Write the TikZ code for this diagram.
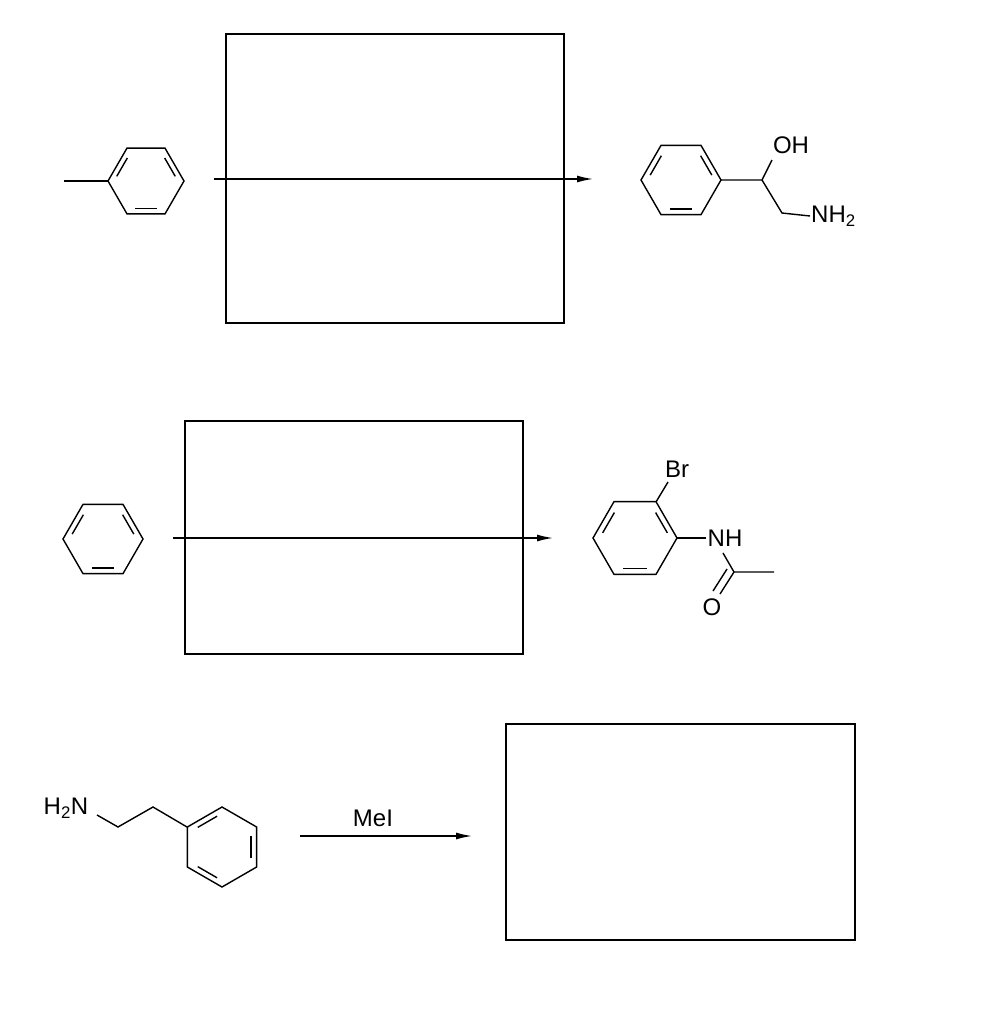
\documentclass[tikz,border=0pt]{standalone}
\usepackage{fontspec}
\setmainfont{Liberation Sans}
\usetikzlibrary{arrows.meta}
\tikzset{bond/.style={line width=1.4pt},lab/.style={font=\fontsize{24}{24}\selectfont,inner sep=1pt},
 rarrow/.style={line width=1.4pt,-{Latex[length=16pt,width=7pt]}},box/.style={line width=1.4pt}}
\newcommand{\benz}[4]{% cx cy r startangle
 \draw[bond] ({#1+#3*cos(#4)},{#2-#3*sin(#4)}) \foreach \k in {1,...,5}{ -- ({#1+#3*cos(#4+60*\k)},{#2-#3*sin(#4+60*\k)})} -- cycle;
 \foreach \k in {0,2,4}{\draw[bond] ({#1+0.78*#3*cos(#4+60*\k+9)},{#2-0.78*#3*sin(#4+60*\k+9)}) -- ({#1+0.78*#3*cos(#4+60*\k+51)},{#2-0.78*#3*sin(#4+60*\k+51)});}}
\begin{document}
\begin{tikzpicture}[x=1pt,y=-1pt]
\useasboundingbox (0,0) rectangle (1000,1010);
% row 1
\benz{146}{181}{38}{0}
\draw[bond] (64,181) -- (108,181);
\draw[box] (226,34) rectangle (564,323);
\coordinate (a1s) at (214,179); \coordinate (a1e) at (593,179);
\draw[rarrow] (a1s) -- (a1e);
\benz{681}{180}{40}{0}
\node[lab] (oh) at (791,145) {OH};
\node[lab,anchor=west] (nh2) at (810,216) {NH\textsubscript{2}};
\draw[bond] (721,180) -- (762,180) -- (772,160);
\draw[bond] (762,180) -- (782,213) -- (nh2.west);
% row 2
\benz{103}{539}{40}{0}
\draw[box] (185,421) rectangle (523,654);
\coordinate (a2s) at (173,538); \coordinate (a2e) at (553,538);
\draw[rarrow] (a2s) -- (a2e);
\benz{635}{538}{42}{0}
\node[lab] (br) at (677,469) {Br};
\node[lab] (nh) at (725,538) {NH};
\node[lab] (o) at (712,607) {O};
\draw[bond] (656,502) -- (668,482);
\draw[bond] (677,538) -- (nh.west);
\draw[bond] (723,553) -- (734,572) -- (774,572);
\draw[bond] (734,572) -- (720,594);
\draw[bond] (727,569) -- (713,591);
% row 3
\node[lab] (h2n) at (66,808) {H\textsubscript{2}N};
\benz{222}{847}{40}{90}
\draw[bond] (97,815) -- (118,827) -- (153,807) -- (187,827);
\coordinate (a3s) at (300,836); \coordinate (a3e) at (472,836);
\draw[rarrow] (a3s) -- (a3e);
\node[lab] (mei) at (373,818) {MeI};
\draw[box] (506,724) rectangle (855,940);
\end{tikzpicture}
\end{document}
